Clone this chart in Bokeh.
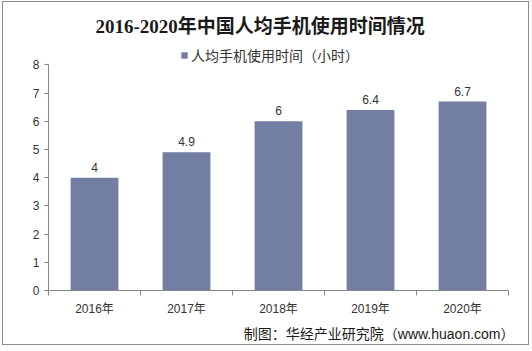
from bokeh.plotting import figure
from bokeh.models import (ColumnDataSource, Range1d, FixedTicker, LabelSet, Label,
                          Legend, LegendItem, Title)
from bokeh.core.properties import value
from bokeh.embed import file_html
from bokeh.resources import INLINE

years = ["2016年", "2017年", "2018年", "2019年", "2020年"]
hours = [4, 4.9, 6, 6.4, 6.7]
hour_labels = ["4", "4.9", "6", "6.4", "6.7"]
series_name = "人均手机使用时间（小时）"
title_text = "2016-2020年中国人均手机使用时间情况"
source_text = "制图：华经产业研究院（www.huaon.com）"
y_ticks = [0, 1, 2, 3, 4, 5, 6, 7, 8]
y_max = 8

xs = [i + 0.5 for i in range(len(years))]
src = ColumnDataSource(dict(x=xs, y=hours, lab=hour_labels))

# frame extends above the axis top to hold title and legend
p = figure(width=527, height=344, output_backend="svg", toolbar_location=None,
           x_range=Range1d(0, len(years)), y_range=Range1d(0, 286 / 28),
           min_border_left=45, min_border_right=22, min_border_top=0,
           min_border_bottom=56, margin=(1, 2, 5, 2),
           styles={"border": "1px solid #8c8c8c", "box-sizing": "border-box"})
p.outline_line_color = None
p.xgrid.visible = False
p.ygrid.visible = False

BAR = "#737FA2"
r = p.vbar(x="x", top="y", width=0.52, bottom=0, source=src, fill_color=BAR,
           line_color=None)

p.add_layout(LabelSet(x="x", y="y", text="lab", source=src, text_align="center",
                      text_baseline="bottom", y_offset=6, text_font_size=value("12px"),
                      text_font=value("Liberation Sans"), text_color="#333333"))

AX = "#868686"
p.yaxis.ticker = FixedTicker(ticks=y_ticks)
p.yaxis.bounds = (0, y_max)
p.yaxis.axis_line_color = AX
p.yaxis.major_tick_line_color = AX
p.yaxis.major_tick_in = 0
p.yaxis.major_tick_out = 4
p.yaxis.minor_tick_line_color = None
p.yaxis.major_label_text_font = "Liberation Sans"
p.yaxis.major_label_text_font_size = "12px"
p.yaxis.major_label_text_color = "#333333"
p.yaxis.major_label_standoff = 5

p.xaxis.ticker = FixedTicker(ticks=xs, minor_ticks=list(range(len(years) + 1)))
p.xaxis.major_label_overrides = {x: y for x, y in zip(xs, years)}
p.xaxis.axis_line_color = AX
p.xaxis.major_tick_line_color = None
p.xaxis.minor_tick_line_color = AX
p.xaxis.minor_tick_in = 0
p.xaxis.minor_tick_out = 5
p.xaxis.major_label_text_font = "Liberation Sans, Noto Sans CJK SC"
p.xaxis.major_label_text_font_size = "12px"
p.xaxis.major_label_text_color = "#333333"
p.xaxis.major_label_standoff = 5

p.add_layout(Label(x=2.3, y=9.36, text=title_text, text_align="center",
                   text_baseline="middle", text_font="Liberation Serif, Noto Sans CJK SC",
                   text_font_size="19px", text_font_style="bold", text_color="#1a1a1a"))

p.add_layout(Title(text=source_text, align="right", offset=-6,
                   text_font="Liberation Sans, Noto Sans CJK SC",
                   text_font_size="14px", text_font_style="normal", text_color="#1a1a1a"),
             "below")

legend = Legend(items=[LegendItem(label=series_name, renderers=[r])],
                orientation="horizontal", location=(132, 225),
                glyph_width=8, glyph_height=8, label_text_font_size="14px",
                label_text_font="Noto Sans CJK SC", label_text_color="#333333",
                padding=0, margin=0, spacing=0, label_standoff=3,
                border_line_color=None, background_fill_alpha=0)
p.add_layout(legend)

open("out.html", "w").write(file_html(p, INLINE))
